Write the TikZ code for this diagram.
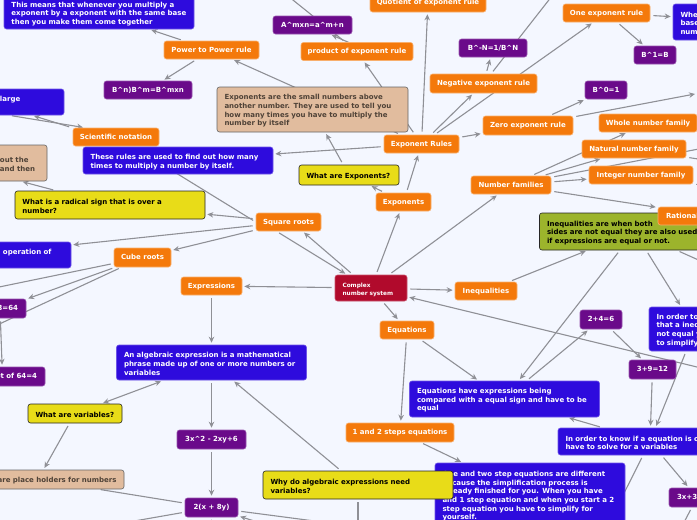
\documentclass[tikz,border=0pt]{standalone}
\usepackage{fontspec}
\usepackage{xcolor}
\usepackage{tikz}
\setmainfont{DejaVu Sans}
\usetikzlibrary{arrows.meta,positioning,calc,backgrounds}
\definecolor{mapback}{HTML}{F4F7FF}
\definecolor{linkgray}{HTML}{8F9096}
\definecolor{ruleorange}{HTML}{F4790B}
\definecolor{mathpurple}{HTML}{6A0A8A}
\definecolor{notesblue}{HTML}{2E0BDD}
\definecolor{notestan}{HTML}{E1BC9E}
\definecolor{asksyellow}{HTML}{E8DC18}
\definecolor{factgreen}{HTML}{9CB42C}
\definecolor{rootred}{HTML}{B10A2C}
\tikzset{
  box/.style={rounded corners=2.5pt,inner sep=0pt,line width=0.6pt,font=\fontsize{7pt}{8.6pt}\selectfont\bfseries},
  size/.style 2 args={minimum width=#1pt,minimum height=#2pt},
  oneline/.style={text height=5.2pt,text depth=1.2pt},
  manyline/.style={align=left,inner xsep=7.5pt,execute at begin node={\rule{0pt}{8pt}}},
  rulebox/.style={box,oneline,fill=ruleorange,draw=ruleorange!60!white,text=white},
  mathbox/.style={box,oneline,fill=mathpurple,draw=mathpurple!70!white,text=white},
  notebox/.style={box,manyline,fill=notesblue,draw=notesblue!70!white,text=white},
  tanbox/.style={box,manyline,fill=notestan,draw=black!60,text=black!65!notestan},
  askbox/.style={box,manyline,fill=asksyellow,draw=black!85,text=black},
  factbox/.style={box,manyline,fill=factgreen,draw=black!85,text=black},
  rootbox/.style={box,manyline,fill=rootred,draw=rootred!70!white,text=white,font=\fontsize{5.8pt}{8.6pt}\selectfont\bfseries},
  link/.style={draw=linkgray,line width=1.1pt,shorten <=3pt,shorten >=2pt},
  arrow/.style={link,-{Stealth[length=6pt,width=5.5pt]}}
}
\begin{document}
\begin{tikzpicture}[x=1pt,y=-1pt]
  \useasboundingbox (0,0) rectangle (697,520);
  % orange rule nodes
  \node[rulebox,size={116}{19}] (quotient) at (428,2.5) {Quotient of exponent rule};
  \node[rulebox,size={87}{18}] (onerule) at (606.5,13) {One exponent rule};
  \node[rulebox,size={95}{18}] (powerrule) at (211.5,50) {Power to Power rule};
  \node[rulebox,size={112}{18}] (product) at (357,51.5) {product of exponent rule};
  \node[rulebox,size={107}{19}] (negative) at (483.5,83.5) {Negative exponent rule};
  \node[rulebox,size={90}{19}] (zerorule) at (528,125.5) {Zero exponent rule};
  \node[rulebox,size={75}{18}] (exprules) at (421.5,144) {Exponent Rules};
  \node[rulebox,size={86}{18}] (scientific) at (116,137) {Scientific notation};
  \node[rulebox,size={98}{18}] (whole) at (648,123) {Whole number family};
  \node[rulebox,size={104}{18}] (natural) at (634,149) {Natural number family};
  \node[rulebox,size={104}{18}] (integer) at (641,175) {Integer number family};
  \node[rulebox,size={80}{18}] (families) at (511,185) {Number families};
  \node[rulebox,size={55}{18}] (exponents) at (403.5,202) {Exponents};
  \node[rulebox,size={65}{18}] (sqroots) at (288.5,222) {Square roots};
  \node[rulebox,size={57}{19}] (cuberoots) at (142.5,257.5) {Cube roots};
  \node[rulebox,size={61}{18}] (expressions) at (211.5,286) {Expressions};
  \node[rulebox,size={62}{18}] (inequalities) at (486,291) {Inequalities};
  \node[rulebox,size={54}{18}] (equations) at (407,330) {Equations};
  \node[rulebox,size={108}{19}] (steps) at (400,432.5) {1 and 2 steps equations};
  % purple formula nodes
  \node[mathbox,size={79}{18}] (amn) at (312.5,25) {A\^{}mxn=a\^{}m+n};
  \node[mathbox,size={68}{18}] (bneg) at (493,48) {B\^{}-N=1/B\^{}N};
  \node[mathbox,size={42}{18}] (bone) at (655,55) {B\^{}1=B};
  \node[mathbox,size={88}{18}] (bpower) at (148,90) {B\^{}n)B\^{}m=B\^{}mxn};
  \node[mathbox,size={42}{18}] (bzero) at (606,90) {B\^{}0=1};
  \node[mathbox,size={42}{19}] (twofour) at (601,319.5) {2+4=6};
  \node[mathbox,size={47}{19}] (threenine) at (652.5,369.5) {3+9=12};
  \node[mathbox,size={56}{19},text width=40pt,align=left,inner xsep=8pt] (threex) at (697,497.5) {3x+3};
  \node[mathbox,size={69}{19}] (quadratic) at (211.5,439.5) {3x\^{}2 - 2xy+6};
  \node[mathbox,size={53}{19}] (factored) at (211.5,507.5) {2(x + 8y)};
  \node[mathbox,size={52}{19},text width=36pt,align=right,inner xsep=8pt] (cubed) at (0,308.5) {3=64};
  \node[mathbox,size={85}{19},text width=69pt,align=right,inner xsep=8pt] (rootof) at (2.5,376.5) {ot of 64=4};
  % blue notes
  \node[notebox,size={190}{33},text width=175pt] (meaning) at (99,12.5) {This means that whenever you multiply a\\exponent by a exponent with the same base\\then you make them come together};
  \node[notebox,size={190}{26},text width=175pt] (largenote) at (-31,102) {\hspace*{118.5pt}large\\\mbox{}};
  \node[notebox,size={190}{27},text width=175pt] (rulesnote) at (178,160.5) {These rules are used to find out how many\\times to multiply a number by itself.};
  \node[notebox,size={190}{26},text width=175pt] (opnote) at (-24,255) {\hspace*{114.5pt}operation of\\\mbox{}};
  \node[notebox,size={190}{35},text width=175pt] (algebraic) at (211.5,362.5) {An algebraic expression is a mathematical\\phrase made up of one or more numbers or\\variables};
  \node[notebox,size={190}{36},text width=175pt] (eqnote) at (504.5,399) {Equations have expressions being\\compared with a equal sign and have to be\\equal};
  \node[notebox,size={184}{27},text width=169pt] (solvenote) at (650,441.5) {In order to know if a equation is c\\have to solve for a variables};
  \node[notebox,size={92}{44},text width=77pt] (ineqnote) at (695,329) {In order to\\that a ineq\\not equal y\\to simplify};
  \node[notebox,size={190}{64},text width=175pt] (stepsnote) at (530,495) {One and two step equations are different\\because the simplification process is\\already finished for you. When you have\\and 1 step equation and when you start a 2\\step equation you have to simplify for\\yourself.};
  \node[notebox,size={190}{36},text width=175pt] (whennote) at (768,22) {Whe\\base\\num};
  % tan notes
  \node[tanbox,size={191}{45},text width=176pt] (expnote) at (312.5,109.5) {Exponents are the small numbers above\\another number. They are used to tell you\\how many times you have to multiply the\\number by itself};
  \node[tanbox,size={190}{36},text width=175pt] (radnote) at (-48,163) {\hspace*{135.5pt}out the\\\hspace*{135.5pt}and then};
  \node[tanbox,size={172}{19},text width=157pt,align=right] (holders) at (38,479.5) {are place holders for numbers};
  % yellow questions
  \node[askbox,size={100}{20},text width=85pt] (askexp) at (349,175) {What are Exponents?};
  \node[askbox,size={190}{28},text width=175pt] (askrad) at (110,205) {What is a radical sign that is over a\\number?};
  \node[askbox,size={94}{19},text width=79pt] (askvar) at (75,413.5) {What are variables?};
  \node[askbox,size={190}{28},text width=175pt] (askwhy) at (358,485) {Why do algebraic expressions need\\variables?};
  % green fact and the red root
  \node[factbox,size={190}{37},text width=175pt] (ineqfact) at (634.5,231.5) {Inequalities are when both\\sides are not equal they are also used\\if expressions are equal or not.};
  \node[rulebox,size={112}{18},text width=96pt,align=left,inner xsep=8pt] (rational) at (714,216) {Rational};
  \node[rootbox,size={72}{26},text width=57pt] (complex) at (371,288) {Complex\\number system};
  % free ends
  \coordinate (offnegative) at (570,-27);
  \coordinate (offproduct) at (283,-8);
  \coordinate (offzero) at (697,93.6);
  \coordinate (offfamilies) at (730,143);
  \coordinate (offnatural) at (730,164);
  \coordinate (offinteger) at (730,190);
  \coordinate (offfact) at (730,274);
  \coordinate (offcomplex) at (730,375);
  \coordinate (offsolve) at (605,531);
  \coordinate (offcubeA) at (-30,293);
  \coordinate (offcubeB) at (-20,333);
  \coordinate (offleft) at (100,527);
  \coordinate (offright) at (345,525);
  \coordinate (offback) at (270,526);
  \coordinate (offup) at (212,545);
  \coordinate (offwhy) at (358,545);
  \coordinate (offthree) at (680,530);
  \coordinate (endrules) at (150,157);
  \begin{pgfonlayer}{background}
    \fill[mapback] (0,0) rectangle (697,520);
    \foreach \a/\b in {exprules/quotient,exprules/negative,exprules/onerule,exprules/zerorule,exprules/rulesnote,exprules/powerrule,exprules/product,
      negative/bneg,onerule/whennote,onerule/bone,zerorule/bzero,zerorule/offzero,powerrule/meaning,powerrule/bpower,
      askexp/expnote,exponents/askexp,exponents/exprules,complex/exponents,complex/families,
      families/whole,families/natural,families/integer,families/rational,complex/inequalities,inequalities/ineqfact,
      complex/equations,complex/expressions,expressions/algebraic,algebraic/quadratic,quadratic/factored,
      askvar/holders,askwhy/algebraic,equations/steps,equations/eqnote,steps/stepsnote,eqnote/twofour,ineqfact/eqnote,
      twofour/threenine,threenine/solvenote,ineqnote/solvenote,ineqfact/ineqnote,offcomplex/complex,solvenote/eqnote,solvenote/threex,
      sqroots/askrad,sqroots/opnote,sqroots/cuberoots,askrad/radnote,cuberoots/cubed,cubed/rootof,offback/factored,offup/factored}{
      \draw[arrow] (\a)--(\b);
    }
    \foreach \a/\b in {negative/offnegative,product/offproduct,families/offfamilies,natural/offnatural,integer/offinteger,ineqfact/offfact,
      solvenote/offsolve,cuberoots/offcubeA,cuberoots/offcubeB,factored/holders,factored/offleft,factored/offright,askwhy/offwhy,threex/offthree}{
      \draw[link] (\a)--(\b);
    }
    \draw[arrow,{Stealth[length=6pt,width=5.5pt]}-{Stealth[length=6pt,width=5.5pt]}] (algebraic)--(askvar);
    \draw[link] (sqroots.west)--(endrules);
    \draw[arrow] ([xshift=-18pt]complex.north)--([xshift=14pt]sqroots.south);
    \draw[arrow] ([xshift=-12pt]sqroots.south)--([xshift=-24pt]complex.north);
    \draw[arrow] ([yshift=5.5pt]product.center)--([xshift=17.5pt]amn.south);
    \draw[arrow] ([xshift=-44pt]scientific.north)--([xshift=63pt]largenote.south);
    \draw[arrow] ([xshift=40pt]largenote.south)--([xshift=-31pt]scientific.north);
  \end{pgfonlayer}
\end{tikzpicture}
\end{document}
